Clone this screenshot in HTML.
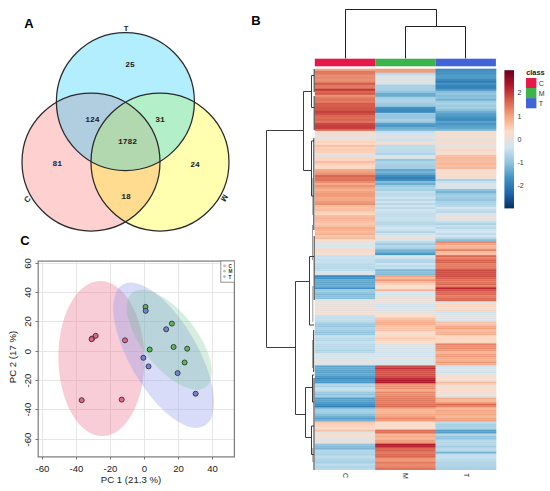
<!DOCTYPE html>
<html><head><meta charset="utf-8"><style>
html,body{margin:0;padding:0;background:#fff;width:550px;height:491px;overflow:hidden}
svg{display:block;font-family:"Liberation Sans",sans-serif}
</style></head><body>
<svg width="550" height="491" viewBox="0 0 550 491">
<rect width="550" height="491" fill="#fff"/>
<!-- Panel A Venn -->
<text x="24.2" y="27.5" font-size="13" font-weight="bold">A</text>
<defs>
<clipPath id="cC"><circle cx="91" cy="162" r="69"/></clipPath>
<clipPath id="cM"><circle cx="160" cy="162" r="69"/></clipPath>
<clipPath id="cT"><circle cx="125.4" cy="101.6" r="69"/></clipPath>
</defs>
<circle cx="91" cy="162" r="69" fill="#FFD0D0"/>
<circle cx="160" cy="162" r="69" fill="#FFFFAF"/>
<circle cx="125.4" cy="101.6" r="69" fill="#B3EEFE"/>
<circle cx="160" cy="162" r="69" fill="#FFDC8F" clip-path="url(#cC)"/>
<circle cx="125.4" cy="101.6" r="69" fill="#B1CDE0" clip-path="url(#cC)"/>
<circle cx="125.4" cy="101.6" r="69" fill="#B3EFC8" clip-path="url(#cM)"/>
<g clip-path="url(#cM)"><circle cx="125.4" cy="101.6" r="69" fill="#B2D8B0" clip-path="url(#cC)"/></g>
<g stroke="#2a2a2a" stroke-width="1.25" fill="none">
<circle cx="91" cy="162" r="69"/>
<circle cx="160" cy="162" r="69"/>
<circle cx="125.4" cy="101.6" r="69"/>
</g>
<g font-size="8" fill="#222" font-family="Liberation Mono, monospace" font-weight="bold" text-anchor="middle">
<text x="130" y="66.9">25</text>
<text x="92.4" y="122">124</text>
<text x="160" y="122">31</text>
<text x="127.5" y="144.2">1782</text>
<text x="57.2" y="166.3">81</text>
<text x="195" y="167">24</text>
<text x="126" y="198.5">18</text>
<text x="126" y="31.3" font-size="7.5" font-family="Liberation Sans, sans-serif">T</text>
<text transform="translate(27.5,199.4) rotate(-45)" font-size="8" font-family="Liberation Sans, sans-serif" dominant-baseline="central">C</text>
<text transform="translate(224.1,197.9) rotate(119)" font-size="8" font-family="Liberation Sans, sans-serif" dominant-baseline="central">M</text>
</g>
<!-- Panel B -->
<text x="251.3" y="24.6" font-size="13" font-weight="bold">B</text>
<g stroke="#222" stroke-width="1" fill="none">
<path d="M345.5,58.5 V9.5 H436.5 V26.5"/>
<path d="M405.5,58.5 V26.5 H465.5 V58.5"/>
</g>
<rect x="314.8" y="58.7" width="60.4" height="7.6" fill="#E6194B"/>
<rect x="375.2" y="58.7" width="60.4" height="7.6" fill="#3CB44B"/>
<rect x="435.6" y="58.7" width="60.3" height="7.6" fill="#4363D8"/>
<rect x="314.80" y="68.70" width="60.77" height="2.25" fill="#f5aa88"/>
<rect x="314.80" y="70.70" width="60.77" height="2.25" fill="#e0765e"/>
<rect x="314.80" y="72.71" width="60.77" height="2.25" fill="#e17a61"/>
<rect x="314.80" y="74.72" width="60.77" height="2.25" fill="#eb9173"/>
<rect x="314.80" y="76.72" width="60.77" height="2.25" fill="#e7866a"/>
<rect x="314.80" y="78.72" width="60.77" height="2.25" fill="#ec9374"/>
<rect x="314.80" y="80.73" width="60.77" height="2.25" fill="#e8896d"/>
<rect x="314.80" y="82.73" width="60.77" height="2.25" fill="#d3594a"/>
<rect x="314.80" y="84.74" width="60.77" height="2.25" fill="#e17961"/>
<rect x="314.80" y="86.75" width="60.77" height="2.25" fill="#e27c63"/>
<rect x="314.80" y="88.75" width="60.77" height="2.25" fill="#c1373a"/>
<rect x="314.80" y="90.75" width="60.77" height="2.25" fill="#da6a55"/>
<rect x="314.80" y="92.76" width="60.77" height="2.25" fill="#d35b4b"/>
<rect x="314.80" y="94.77" width="60.77" height="2.25" fill="#ec9274"/>
<rect x="314.80" y="96.77" width="60.77" height="2.25" fill="#e37e64"/>
<rect x="314.80" y="98.78" width="60.77" height="2.25" fill="#de725a"/>
<rect x="314.80" y="100.78" width="60.77" height="2.25" fill="#e37e64"/>
<rect x="314.80" y="102.78" width="60.77" height="2.25" fill="#d45d4c"/>
<rect x="314.80" y="104.79" width="60.77" height="2.25" fill="#d55f4c"/>
<rect x="314.80" y="106.80" width="60.77" height="2.25" fill="#d25849"/>
<rect x="314.80" y="108.80" width="60.77" height="2.25" fill="#d25849"/>
<rect x="314.80" y="110.81" width="60.77" height="2.25" fill="#c63f3e"/>
<rect x="314.80" y="112.81" width="60.77" height="2.25" fill="#cc4d44"/>
<rect x="314.80" y="114.81" width="60.77" height="2.25" fill="#d96752"/>
<rect x="314.80" y="116.82" width="60.77" height="2.25" fill="#dc6f58"/>
<rect x="314.80" y="118.83" width="60.77" height="2.25" fill="#d86551"/>
<rect x="314.80" y="120.83" width="60.77" height="2.25" fill="#e0775f"/>
<rect x="314.80" y="122.84" width="60.77" height="2.25" fill="#cb4942"/>
<rect x="314.80" y="124.84" width="60.77" height="2.25" fill="#c53f3d"/>
<rect x="314.80" y="126.84" width="60.77" height="2.25" fill="#c43c3c"/>
<rect x="314.80" y="128.85" width="60.77" height="2.25" fill="#da6954"/>
<rect x="314.80" y="130.85" width="60.77" height="2.25" fill="#f3ddd0"/>
<rect x="314.80" y="132.86" width="60.77" height="2.25" fill="#f3ddd1"/>
<rect x="314.80" y="134.87" width="60.77" height="2.25" fill="#e9e0da"/>
<rect x="314.80" y="136.87" width="60.77" height="2.25" fill="#e4e1de"/>
<rect x="314.80" y="138.88" width="60.77" height="2.25" fill="#fadcca"/>
<rect x="314.80" y="140.88" width="60.77" height="2.25" fill="#fbd2bb"/>
<rect x="314.80" y="142.88" width="60.77" height="2.25" fill="#fcdbc8"/>
<rect x="314.80" y="144.89" width="60.77" height="2.25" fill="#f9c0a5"/>
<rect x="314.80" y="146.89" width="60.77" height="2.25" fill="#fbd1ba"/>
<rect x="314.80" y="148.90" width="60.77" height="2.25" fill="#fbccb4"/>
<rect x="314.80" y="150.91" width="60.77" height="2.25" fill="#fbd1ba"/>
<rect x="314.80" y="152.91" width="60.77" height="2.25" fill="#f0ded3"/>
<rect x="314.80" y="154.91" width="60.77" height="2.25" fill="#dce3e6"/>
<rect x="314.80" y="156.92" width="60.77" height="2.25" fill="#fcd6c0"/>
<rect x="314.80" y="158.93" width="60.77" height="2.25" fill="#fcd6c1"/>
<rect x="314.80" y="160.93" width="60.77" height="2.25" fill="#f8bea2"/>
<rect x="314.80" y="162.94" width="60.77" height="2.25" fill="#fbd0b9"/>
<rect x="314.80" y="164.94" width="60.77" height="2.25" fill="#fddac6"/>
<rect x="314.80" y="166.94" width="60.77" height="2.25" fill="#f9dccb"/>
<rect x="314.80" y="168.95" width="60.77" height="2.25" fill="#f5ac8b"/>
<rect x="314.80" y="170.95" width="60.77" height="2.25" fill="#f2a17f"/>
<rect x="314.80" y="172.96" width="60.77" height="2.25" fill="#ec9475"/>
<rect x="314.80" y="174.97" width="60.77" height="2.25" fill="#d96752"/>
<rect x="314.80" y="176.97" width="60.77" height="2.25" fill="#e0765e"/>
<rect x="314.80" y="178.97" width="60.77" height="2.25" fill="#de725b"/>
<rect x="314.80" y="180.98" width="60.77" height="2.25" fill="#e98c6f"/>
<rect x="314.80" y="182.99" width="60.77" height="2.25" fill="#f5aa89"/>
<rect x="314.80" y="184.99" width="60.77" height="2.25" fill="#ec9274"/>
<rect x="314.80" y="187.00" width="60.77" height="2.25" fill="#f3a481"/>
<rect x="314.80" y="189.00" width="60.77" height="2.25" fill="#f6b191"/>
<rect x="314.80" y="191.00" width="60.77" height="2.25" fill="#f3a380"/>
<rect x="314.80" y="193.01" width="60.77" height="2.25" fill="#f09c7b"/>
<rect x="314.80" y="195.01" width="60.77" height="2.25" fill="#f19d7c"/>
<rect x="314.80" y="197.02" width="60.77" height="2.25" fill="#f5a988"/>
<rect x="314.80" y="199.02" width="60.77" height="2.25" fill="#f4a785"/>
<rect x="314.80" y="201.03" width="60.77" height="2.25" fill="#ef9a7a"/>
<rect x="314.80" y="203.03" width="60.77" height="2.25" fill="#ea8e70"/>
<rect x="314.80" y="205.04" width="60.77" height="2.25" fill="#f8bda0"/>
<rect x="314.80" y="207.05" width="60.77" height="2.25" fill="#f9c1a6"/>
<rect x="314.80" y="209.05" width="60.77" height="2.25" fill="#f8bea2"/>
<rect x="314.80" y="211.06" width="60.77" height="2.25" fill="#fbceb6"/>
<rect x="314.80" y="213.06" width="60.77" height="2.25" fill="#fcd6c0"/>
<rect x="314.80" y="215.06" width="60.77" height="2.25" fill="#f8bea2"/>
<rect x="314.80" y="217.07" width="60.77" height="2.25" fill="#f7b495"/>
<rect x="314.80" y="219.07" width="60.77" height="2.25" fill="#f7b89b"/>
<rect x="314.80" y="221.08" width="60.77" height="2.25" fill="#f8bfa4"/>
<rect x="314.80" y="223.08" width="60.77" height="2.25" fill="#fac7ae"/>
<rect x="314.80" y="225.09" width="60.77" height="2.25" fill="#f8bc9f"/>
<rect x="314.80" y="227.09" width="60.77" height="2.25" fill="#f5aa89"/>
<rect x="314.80" y="229.10" width="60.77" height="2.25" fill="#f6b293"/>
<rect x="314.80" y="231.11" width="60.77" height="2.25" fill="#f8ba9d"/>
<rect x="314.80" y="233.11" width="60.77" height="2.25" fill="#f6af8f"/>
<rect x="314.80" y="235.12" width="60.77" height="2.25" fill="#f9c5ab"/>
<rect x="314.80" y="237.12" width="60.77" height="2.25" fill="#f8bb9e"/>
<rect x="314.80" y="239.12" width="60.77" height="2.25" fill="#fbdcc9"/>
<rect x="314.80" y="241.13" width="60.77" height="2.25" fill="#dfe2e3"/>
<rect x="314.80" y="243.13" width="60.77" height="2.25" fill="#dce3e6"/>
<rect x="314.80" y="245.14" width="60.77" height="2.25" fill="#d6e4eb"/>
<rect x="314.80" y="247.14" width="60.77" height="2.25" fill="#ecdfd7"/>
<rect x="314.80" y="249.15" width="60.77" height="2.25" fill="#fcd6c0"/>
<rect x="314.80" y="251.15" width="60.77" height="2.25" fill="#e6e0dd"/>
<rect x="314.80" y="253.16" width="60.77" height="2.25" fill="#fcdbc8"/>
<rect x="314.80" y="255.17" width="60.77" height="2.25" fill="#c5dfed"/>
<rect x="314.80" y="257.17" width="60.77" height="2.25" fill="#c8e0ed"/>
<rect x="314.80" y="259.18" width="60.77" height="2.25" fill="#c2ddec"/>
<rect x="314.80" y="261.18" width="60.77" height="2.25" fill="#c5dfec"/>
<rect x="314.80" y="263.19" width="60.77" height="2.25" fill="#b9d9e9"/>
<rect x="314.80" y="265.19" width="60.77" height="2.25" fill="#bad9ea"/>
<rect x="314.80" y="267.19" width="60.77" height="2.25" fill="#b5d7e8"/>
<rect x="314.80" y="269.20" width="60.77" height="2.25" fill="#bddbea"/>
<rect x="314.80" y="271.20" width="60.77" height="2.25" fill="#dbe3e7"/>
<rect x="314.80" y="273.21" width="60.77" height="2.25" fill="#d2e5ef"/>
<rect x="314.80" y="275.21" width="60.77" height="2.25" fill="#3b88bd"/>
<rect x="314.80" y="277.22" width="60.77" height="2.25" fill="#4191c2"/>
<rect x="314.80" y="279.22" width="60.77" height="2.25" fill="#68aad0"/>
<rect x="314.80" y="281.23" width="60.77" height="2.25" fill="#61a6cd"/>
<rect x="314.80" y="283.24" width="60.77" height="2.25" fill="#60a6cd"/>
<rect x="314.80" y="285.24" width="60.77" height="2.25" fill="#6bacd1"/>
<rect x="314.80" y="287.25" width="60.77" height="2.25" fill="#4291c2"/>
<rect x="314.80" y="289.25" width="60.77" height="2.25" fill="#9bcae1"/>
<rect x="314.80" y="291.25" width="60.77" height="2.25" fill="#95c7df"/>
<rect x="314.80" y="293.26" width="60.77" height="2.25" fill="#7fb9d8"/>
<rect x="314.80" y="295.26" width="60.77" height="2.25" fill="#8ac0db"/>
<rect x="314.80" y="297.27" width="60.77" height="2.25" fill="#87beda"/>
<rect x="314.80" y="299.27" width="60.77" height="2.25" fill="#e0e2e2"/>
<rect x="314.80" y="301.28" width="60.77" height="2.25" fill="#e8e0db"/>
<rect x="314.80" y="303.28" width="60.77" height="2.25" fill="#e6e0dd"/>
<rect x="314.80" y="305.29" width="60.77" height="2.25" fill="#e6e0dd"/>
<rect x="314.80" y="307.30" width="60.77" height="2.25" fill="#f3ddd0"/>
<rect x="314.80" y="309.30" width="60.77" height="2.25" fill="#e3e1df"/>
<rect x="314.80" y="311.31" width="60.77" height="2.25" fill="#f4ddcf"/>
<rect x="314.80" y="313.31" width="60.77" height="2.25" fill="#efded4"/>
<rect x="314.80" y="315.31" width="60.77" height="2.25" fill="#c3deec"/>
<rect x="314.80" y="317.32" width="60.77" height="2.25" fill="#c0dceb"/>
<rect x="314.80" y="319.32" width="60.77" height="2.25" fill="#c0dceb"/>
<rect x="314.80" y="321.33" width="60.77" height="2.25" fill="#b0d4e6"/>
<rect x="314.80" y="323.33" width="60.77" height="2.25" fill="#9ac9e0"/>
<rect x="314.80" y="325.34" width="60.77" height="2.25" fill="#95c6df"/>
<rect x="314.80" y="327.34" width="60.77" height="2.25" fill="#aad1e5"/>
<rect x="314.80" y="329.35" width="60.77" height="2.25" fill="#9ecbe2"/>
<rect x="314.80" y="331.35" width="60.77" height="2.25" fill="#93c6de"/>
<rect x="314.80" y="333.36" width="60.77" height="2.25" fill="#97c7df"/>
<rect x="314.80" y="335.36" width="60.77" height="2.25" fill="#c7e0ed"/>
<rect x="314.80" y="337.37" width="60.77" height="2.25" fill="#b8d8e9"/>
<rect x="314.80" y="339.38" width="60.77" height="2.25" fill="#b3d6e7"/>
<rect x="314.80" y="341.38" width="60.77" height="2.25" fill="#c5dfed"/>
<rect x="314.80" y="343.38" width="60.77" height="2.25" fill="#bbdaea"/>
<rect x="314.80" y="345.39" width="60.77" height="2.25" fill="#b5d7e8"/>
<rect x="314.80" y="347.39" width="60.77" height="2.25" fill="#bbdaea"/>
<rect x="314.80" y="349.40" width="60.77" height="2.25" fill="#a9d1e4"/>
<rect x="314.80" y="351.40" width="60.77" height="2.25" fill="#b8d8e9"/>
<rect x="314.80" y="353.41" width="60.77" height="2.25" fill="#dbe3e7"/>
<rect x="314.80" y="355.41" width="60.77" height="2.25" fill="#d4e4ed"/>
<rect x="314.80" y="357.42" width="60.77" height="2.25" fill="#d2e5ef"/>
<rect x="314.80" y="359.42" width="60.77" height="2.25" fill="#e9e0da"/>
<rect x="314.80" y="361.43" width="60.77" height="2.25" fill="#dde2e4"/>
<rect x="314.80" y="363.43" width="60.77" height="2.25" fill="#d5e4ed"/>
<rect x="314.80" y="365.44" width="60.77" height="2.25" fill="#5ca3cc"/>
<rect x="314.80" y="367.44" width="60.77" height="2.25" fill="#67aacf"/>
<rect x="314.80" y="369.45" width="60.77" height="2.25" fill="#5ba2cb"/>
<rect x="314.80" y="371.45" width="60.77" height="2.25" fill="#5ba2cb"/>
<rect x="314.80" y="373.46" width="60.77" height="2.25" fill="#62a7ce"/>
<rect x="314.80" y="375.46" width="60.77" height="2.25" fill="#4a98c6"/>
<rect x="314.80" y="377.47" width="60.77" height="2.25" fill="#3a87bd"/>
<rect x="314.80" y="379.47" width="60.77" height="2.25" fill="#4a97c5"/>
<rect x="314.80" y="381.48" width="60.77" height="2.25" fill="#4896c5"/>
<rect x="314.80" y="383.48" width="60.77" height="2.25" fill="#b5d7e8"/>
<rect x="314.80" y="385.49" width="60.77" height="2.25" fill="#a7d0e4"/>
<rect x="314.80" y="387.49" width="60.77" height="2.25" fill="#c7e0ed"/>
<rect x="314.80" y="389.50" width="60.77" height="2.25" fill="#bfdceb"/>
<rect x="314.80" y="391.50" width="60.77" height="2.25" fill="#9ccae1"/>
<rect x="314.80" y="393.51" width="60.77" height="2.25" fill="#8fc3dd"/>
<rect x="314.80" y="395.51" width="60.77" height="2.25" fill="#a2cde2"/>
<rect x="314.80" y="397.52" width="60.77" height="2.25" fill="#519cc8"/>
<rect x="314.80" y="399.52" width="60.77" height="2.25" fill="#5ba2cb"/>
<rect x="314.80" y="401.53" width="60.77" height="2.25" fill="#4d9ac7"/>
<rect x="314.80" y="403.53" width="60.77" height="2.25" fill="#3f8ec0"/>
<rect x="314.80" y="405.54" width="60.77" height="2.25" fill="#327db8"/>
<rect x="314.80" y="407.54" width="60.77" height="2.25" fill="#87beda"/>
<rect x="314.80" y="409.55" width="60.77" height="2.25" fill="#a5cfe4"/>
<rect x="314.80" y="411.55" width="60.77" height="2.25" fill="#a2cde2"/>
<rect x="314.80" y="413.56" width="60.77" height="2.25" fill="#88bfdb"/>
<rect x="314.80" y="415.56" width="60.77" height="2.25" fill="#6fafd2"/>
<rect x="314.80" y="417.57" width="60.77" height="2.25" fill="#539dc8"/>
<rect x="314.80" y="419.57" width="60.77" height="2.25" fill="#74b2d4"/>
<rect x="314.80" y="421.58" width="60.77" height="2.25" fill="#f9c5ab"/>
<rect x="314.80" y="423.58" width="60.77" height="2.25" fill="#fbd0ba"/>
<rect x="314.80" y="425.59" width="60.77" height="2.25" fill="#fcd6c1"/>
<rect x="314.80" y="427.59" width="60.77" height="2.25" fill="#fadcca"/>
<rect x="314.80" y="429.60" width="60.77" height="2.25" fill="#f9c0a5"/>
<rect x="314.80" y="431.60" width="60.77" height="2.25" fill="#e0e2e2"/>
<rect x="314.80" y="433.61" width="60.77" height="2.25" fill="#f7dccd"/>
<rect x="314.80" y="435.61" width="60.77" height="2.25" fill="#f1ded2"/>
<rect x="314.80" y="437.62" width="60.77" height="2.25" fill="#e6e0dd"/>
<rect x="314.80" y="439.62" width="60.77" height="2.25" fill="#dae3e7"/>
<rect x="314.80" y="441.63" width="60.77" height="2.25" fill="#eeded5"/>
<rect x="314.80" y="443.63" width="60.77" height="2.25" fill="#93c5de"/>
<rect x="314.80" y="445.64" width="60.77" height="2.25" fill="#85bdda"/>
<rect x="314.80" y="447.64" width="60.77" height="2.25" fill="#7bb6d6"/>
<rect x="314.80" y="449.65" width="60.77" height="2.25" fill="#b3d6e7"/>
<rect x="314.80" y="451.65" width="60.77" height="2.25" fill="#b1d5e7"/>
<rect x="314.80" y="453.66" width="60.77" height="2.25" fill="#acd2e5"/>
<rect x="314.80" y="455.66" width="60.77" height="2.25" fill="#bfdceb"/>
<rect x="314.80" y="457.67" width="60.77" height="2.25" fill="#b5d7e8"/>
<rect x="314.80" y="459.67" width="60.77" height="2.25" fill="#abd2e5"/>
<rect x="314.80" y="461.68" width="60.77" height="2.25" fill="#a7d0e4"/>
<rect x="314.80" y="463.68" width="60.77" height="2.25" fill="#bfdceb"/>
<rect x="314.80" y="465.69" width="60.77" height="2.25" fill="#afd4e6"/>
<rect x="314.80" y="467.69" width="60.77" height="2.25" fill="#b8d8e9"/><rect x="375.17" y="68.70" width="60.77" height="2.25" fill="#ef9b7a"/>
<rect x="375.17" y="70.70" width="60.77" height="2.25" fill="#f09b7a"/>
<rect x="375.17" y="72.71" width="60.77" height="2.25" fill="#b8d8e9"/>
<rect x="375.17" y="74.72" width="60.77" height="2.25" fill="#cce3ef"/>
<rect x="375.17" y="76.72" width="60.77" height="2.25" fill="#e4e1df"/>
<rect x="375.17" y="78.72" width="60.77" height="2.25" fill="#e1e1e1"/>
<rect x="375.17" y="80.73" width="60.77" height="2.25" fill="#dfe2e3"/>
<rect x="375.17" y="82.73" width="60.77" height="2.25" fill="#d4e4ed"/>
<rect x="375.17" y="84.74" width="60.77" height="2.25" fill="#a9d1e5"/>
<rect x="375.17" y="86.75" width="60.77" height="2.25" fill="#a9d1e5"/>
<rect x="375.17" y="88.75" width="60.77" height="2.25" fill="#a8d0e4"/>
<rect x="375.17" y="90.75" width="60.77" height="2.25" fill="#97c7df"/>
<rect x="375.17" y="92.76" width="60.77" height="2.25" fill="#6bacd1"/>
<rect x="375.17" y="94.77" width="60.77" height="2.25" fill="#69abd0"/>
<rect x="375.17" y="96.77" width="60.77" height="2.25" fill="#a5cfe3"/>
<rect x="375.17" y="98.78" width="60.77" height="2.25" fill="#b0d4e7"/>
<rect x="375.17" y="100.78" width="60.77" height="2.25" fill="#aed3e6"/>
<rect x="375.17" y="102.78" width="60.77" height="2.25" fill="#9dcbe1"/>
<rect x="375.17" y="104.79" width="60.77" height="2.25" fill="#99c9e0"/>
<rect x="375.17" y="106.80" width="60.77" height="2.25" fill="#4191c2"/>
<rect x="375.17" y="108.80" width="60.77" height="2.25" fill="#3c8abe"/>
<rect x="375.17" y="110.81" width="60.77" height="2.25" fill="#3c89be"/>
<rect x="375.17" y="112.81" width="60.77" height="2.25" fill="#9ac9e0"/>
<rect x="375.17" y="114.81" width="60.77" height="2.25" fill="#94c6df"/>
<rect x="375.17" y="116.82" width="60.77" height="2.25" fill="#96c7df"/>
<rect x="375.17" y="118.83" width="60.77" height="2.25" fill="#acd2e5"/>
<rect x="375.17" y="120.83" width="60.77" height="2.25" fill="#9dcae1"/>
<rect x="375.17" y="122.84" width="60.77" height="2.25" fill="#5aa1cb"/>
<rect x="375.17" y="124.84" width="60.77" height="2.25" fill="#4997c5"/>
<rect x="375.17" y="126.84" width="60.77" height="2.25" fill="#6daed1"/>
<rect x="375.17" y="128.85" width="60.77" height="2.25" fill="#7db8d7"/>
<rect x="375.17" y="130.85" width="60.77" height="2.25" fill="#c5dfed"/>
<rect x="375.17" y="132.86" width="60.77" height="2.25" fill="#d3e4ee"/>
<rect x="375.17" y="134.87" width="60.77" height="2.25" fill="#e5e0dd"/>
<rect x="375.17" y="136.87" width="60.77" height="2.25" fill="#dce3e6"/>
<rect x="375.17" y="138.88" width="60.77" height="2.25" fill="#cce2ee"/>
<rect x="375.17" y="140.88" width="60.77" height="2.25" fill="#efded4"/>
<rect x="375.17" y="142.88" width="60.77" height="2.25" fill="#ecdfd7"/>
<rect x="375.17" y="144.89" width="60.77" height="2.25" fill="#bddbea"/>
<rect x="375.17" y="146.89" width="60.77" height="2.25" fill="#c4deec"/>
<rect x="375.17" y="148.90" width="60.77" height="2.25" fill="#bedbeb"/>
<rect x="375.17" y="150.91" width="60.77" height="2.25" fill="#bfdceb"/>
<rect x="375.17" y="152.91" width="60.77" height="2.25" fill="#add3e6"/>
<rect x="375.17" y="154.91" width="60.77" height="2.25" fill="#dbe3e7"/>
<rect x="375.17" y="156.92" width="60.77" height="2.25" fill="#dae3e8"/>
<rect x="375.17" y="158.93" width="60.77" height="2.25" fill="#97c7df"/>
<rect x="375.17" y="160.93" width="60.77" height="2.25" fill="#afd4e6"/>
<rect x="375.17" y="162.94" width="60.77" height="2.25" fill="#aed3e6"/>
<rect x="375.17" y="164.94" width="60.77" height="2.25" fill="#a3cee3"/>
<rect x="375.17" y="166.94" width="60.77" height="2.25" fill="#a6cfe4"/>
<rect x="375.17" y="168.95" width="60.77" height="2.25" fill="#62a7ce"/>
<rect x="375.17" y="170.95" width="60.77" height="2.25" fill="#79b5d5"/>
<rect x="375.17" y="172.96" width="60.77" height="2.25" fill="#63a7ce"/>
<rect x="375.17" y="174.97" width="60.77" height="2.25" fill="#3f8dc0"/>
<rect x="375.17" y="176.97" width="60.77" height="2.25" fill="#347fb9"/>
<rect x="375.17" y="178.97" width="60.77" height="2.25" fill="#408fc1"/>
<rect x="375.17" y="180.98" width="60.77" height="2.25" fill="#83bcd9"/>
<rect x="375.17" y="182.99" width="60.77" height="2.25" fill="#6cadd1"/>
<rect x="375.17" y="184.99" width="60.77" height="2.25" fill="#9ecbe2"/>
<rect x="375.17" y="187.00" width="60.77" height="2.25" fill="#add3e6"/>
<rect x="375.17" y="189.00" width="60.77" height="2.25" fill="#a5cfe3"/>
<rect x="375.17" y="191.00" width="60.77" height="2.25" fill="#c5dfed"/>
<rect x="375.17" y="193.01" width="60.77" height="2.25" fill="#badaea"/>
<rect x="375.17" y="195.01" width="60.77" height="2.25" fill="#bfdceb"/>
<rect x="375.17" y="197.02" width="60.77" height="2.25" fill="#cee4ef"/>
<rect x="375.17" y="199.02" width="60.77" height="2.25" fill="#b8d8e9"/>
<rect x="375.17" y="201.03" width="60.77" height="2.25" fill="#d2e5ef"/>
<rect x="375.17" y="203.03" width="60.77" height="2.25" fill="#b8d8e9"/>
<rect x="375.17" y="205.04" width="60.77" height="2.25" fill="#d2e5ef"/>
<rect x="375.17" y="207.05" width="60.77" height="2.25" fill="#b9d9e9"/>
<rect x="375.17" y="209.05" width="60.77" height="2.25" fill="#d3e4ee"/>
<rect x="375.17" y="211.06" width="60.77" height="2.25" fill="#cae1ee"/>
<rect x="375.17" y="213.06" width="60.77" height="2.25" fill="#c1ddec"/>
<rect x="375.17" y="215.06" width="60.77" height="2.25" fill="#c2ddec"/>
<rect x="375.17" y="217.07" width="60.77" height="2.25" fill="#c8e0ed"/>
<rect x="375.17" y="219.07" width="60.77" height="2.25" fill="#c5dfed"/>
<rect x="375.17" y="221.08" width="60.77" height="2.25" fill="#b9d9e9"/>
<rect x="375.17" y="223.08" width="60.77" height="2.25" fill="#b5d7e8"/>
<rect x="375.17" y="225.09" width="60.77" height="2.25" fill="#c2ddec"/>
<rect x="375.17" y="227.09" width="60.77" height="2.25" fill="#d3e5ef"/>
<rect x="375.17" y="229.10" width="60.77" height="2.25" fill="#c6e0ed"/>
<rect x="375.17" y="231.11" width="60.77" height="2.25" fill="#b0d4e6"/>
<rect x="375.17" y="233.11" width="60.77" height="2.25" fill="#cfe4ef"/>
<rect x="375.17" y="235.12" width="60.77" height="2.25" fill="#e4e1df"/>
<rect x="375.17" y="237.12" width="60.77" height="2.25" fill="#e9e0da"/>
<rect x="375.17" y="239.12" width="60.77" height="2.25" fill="#d4e4ed"/>
<rect x="375.17" y="241.13" width="60.77" height="2.25" fill="#b9d9e9"/>
<rect x="375.17" y="243.13" width="60.77" height="2.25" fill="#9ccae1"/>
<rect x="375.17" y="245.14" width="60.77" height="2.25" fill="#b5d7e8"/>
<rect x="375.17" y="247.14" width="60.77" height="2.25" fill="#a5cfe3"/>
<rect x="375.17" y="249.15" width="60.77" height="2.25" fill="#78b4d5"/>
<rect x="375.17" y="251.15" width="60.77" height="2.25" fill="#6aacd0"/>
<rect x="375.17" y="253.16" width="60.77" height="2.25" fill="#4393c3"/>
<rect x="375.17" y="255.17" width="60.77" height="2.25" fill="#d7e4ea"/>
<rect x="375.17" y="257.17" width="60.77" height="2.25" fill="#cbe2ee"/>
<rect x="375.17" y="259.18" width="60.77" height="2.25" fill="#b2d5e7"/>
<rect x="375.17" y="261.18" width="60.77" height="2.25" fill="#b0d4e7"/>
<rect x="375.17" y="263.19" width="60.77" height="2.25" fill="#cce3ef"/>
<rect x="375.17" y="265.19" width="60.77" height="2.25" fill="#b9d9e9"/>
<rect x="375.17" y="267.19" width="60.77" height="2.25" fill="#c6dfed"/>
<rect x="375.17" y="269.20" width="60.77" height="2.25" fill="#7ab6d6"/>
<rect x="375.17" y="271.20" width="60.77" height="2.25" fill="#8bc0dc"/>
<rect x="375.17" y="273.21" width="60.77" height="2.25" fill="#81bad8"/>
<rect x="375.17" y="275.21" width="60.77" height="2.25" fill="#f3a280"/>
<rect x="375.17" y="277.22" width="60.77" height="2.25" fill="#f7b89a"/>
<rect x="375.17" y="279.22" width="60.77" height="2.25" fill="#ed9576"/>
<rect x="375.17" y="281.23" width="60.77" height="2.25" fill="#f7ba9d"/>
<rect x="375.17" y="283.24" width="60.77" height="2.25" fill="#fbcdb6"/>
<rect x="375.17" y="285.24" width="60.77" height="2.25" fill="#f3ddd0"/>
<rect x="375.17" y="287.25" width="60.77" height="2.25" fill="#fadcca"/>
<rect x="375.17" y="289.25" width="60.77" height="2.25" fill="#f6b293"/>
<rect x="375.17" y="291.25" width="60.77" height="2.25" fill="#d3e5ee"/>
<rect x="375.17" y="293.26" width="60.77" height="2.25" fill="#d4e4ed"/>
<rect x="375.17" y="295.26" width="60.77" height="2.25" fill="#e3e1e0"/>
<rect x="375.17" y="297.27" width="60.77" height="2.25" fill="#eedfd5"/>
<rect x="375.17" y="299.27" width="60.77" height="2.25" fill="#e4e1df"/>
<rect x="375.17" y="301.28" width="60.77" height="2.25" fill="#ebdfd7"/>
<rect x="375.17" y="303.28" width="60.77" height="2.25" fill="#d3e5ee"/>
<rect x="375.17" y="305.29" width="60.77" height="2.25" fill="#cfe4ef"/>
<rect x="375.17" y="307.30" width="60.77" height="2.25" fill="#d9e3e9"/>
<rect x="375.17" y="309.30" width="60.77" height="2.25" fill="#e0e1e2"/>
<rect x="375.17" y="311.31" width="60.77" height="2.25" fill="#e4e1de"/>
<rect x="375.17" y="313.31" width="60.77" height="2.25" fill="#f6ddcd"/>
<rect x="375.17" y="315.31" width="60.77" height="2.25" fill="#fddbc7"/>
<rect x="375.17" y="317.32" width="60.77" height="2.25" fill="#f9c6ac"/>
<rect x="375.17" y="319.32" width="60.77" height="2.25" fill="#f7b799"/>
<rect x="375.17" y="321.33" width="60.77" height="2.25" fill="#f5ac8b"/>
<rect x="375.17" y="323.33" width="60.77" height="2.25" fill="#f5ad8c"/>
<rect x="375.17" y="325.34" width="60.77" height="2.25" fill="#f8bfa3"/>
<rect x="375.17" y="327.34" width="60.77" height="2.25" fill="#f9c4aa"/>
<rect x="375.17" y="329.35" width="60.77" height="2.25" fill="#f9c1a5"/>
<rect x="375.17" y="331.35" width="60.77" height="2.25" fill="#fddac6"/>
<rect x="375.17" y="333.36" width="60.77" height="2.25" fill="#f7dccd"/>
<rect x="375.17" y="335.36" width="60.77" height="2.25" fill="#fcd7c2"/>
<rect x="375.17" y="337.37" width="60.77" height="2.25" fill="#fac8ae"/>
<rect x="375.17" y="339.38" width="60.77" height="2.25" fill="#fcd4be"/>
<rect x="375.17" y="341.38" width="60.77" height="2.25" fill="#fcdbc8"/>
<rect x="375.17" y="343.38" width="60.77" height="2.25" fill="#d8e3e9"/>
<rect x="375.17" y="345.39" width="60.77" height="2.25" fill="#e5e1de"/>
<rect x="375.17" y="347.39" width="60.77" height="2.25" fill="#cee4ef"/>
<rect x="375.17" y="349.40" width="60.77" height="2.25" fill="#dce2e6"/>
<rect x="375.17" y="351.40" width="60.77" height="2.25" fill="#d0e4f0"/>
<rect x="375.17" y="353.41" width="60.77" height="2.25" fill="#d4e4ee"/>
<rect x="375.17" y="355.41" width="60.77" height="2.25" fill="#cfe4ef"/>
<rect x="375.17" y="357.42" width="60.77" height="2.25" fill="#e7e0db"/>
<rect x="375.17" y="359.42" width="60.77" height="2.25" fill="#d3e5ee"/>
<rect x="375.17" y="361.43" width="60.77" height="2.25" fill="#dde2e5"/>
<rect x="375.17" y="363.43" width="60.77" height="2.25" fill="#d7e4ea"/>
<rect x="375.17" y="365.44" width="60.77" height="2.25" fill="#ca4842"/>
<rect x="375.17" y="367.44" width="60.77" height="2.25" fill="#bd2e36"/>
<rect x="375.17" y="369.45" width="60.77" height="2.25" fill="#cd4d44"/>
<rect x="375.17" y="371.45" width="60.77" height="2.25" fill="#cf5146"/>
<rect x="375.17" y="373.46" width="60.77" height="2.25" fill="#cf5246"/>
<rect x="375.17" y="375.46" width="60.77" height="2.25" fill="#cc4c44"/>
<rect x="375.17" y="377.47" width="60.77" height="2.25" fill="#bb2933"/>
<rect x="375.17" y="379.47" width="60.77" height="2.25" fill="#a9152a"/>
<rect x="375.17" y="381.48" width="60.77" height="2.25" fill="#b0172b"/>
<rect x="375.17" y="383.48" width="60.77" height="2.25" fill="#ea8f71"/>
<rect x="375.17" y="385.49" width="60.77" height="2.25" fill="#eb9173"/>
<rect x="375.17" y="387.49" width="60.77" height="2.25" fill="#ea8e71"/>
<rect x="375.17" y="389.50" width="60.77" height="2.25" fill="#f6af8e"/>
<rect x="375.17" y="391.50" width="60.77" height="2.25" fill="#e8886c"/>
<rect x="375.17" y="393.51" width="60.77" height="2.25" fill="#eb9173"/>
<rect x="375.17" y="395.51" width="60.77" height="2.25" fill="#e58267"/>
<rect x="375.17" y="397.52" width="60.77" height="2.25" fill="#e48066"/>
<rect x="375.17" y="399.52" width="60.77" height="2.25" fill="#e17860"/>
<rect x="375.17" y="401.53" width="60.77" height="2.25" fill="#e27c63"/>
<rect x="375.17" y="403.53" width="60.77" height="2.25" fill="#de725b"/>
<rect x="375.17" y="405.54" width="60.77" height="2.25" fill="#db6a55"/>
<rect x="375.17" y="407.54" width="60.77" height="2.25" fill="#f3a481"/>
<rect x="375.17" y="409.55" width="60.77" height="2.25" fill="#f7b799"/>
<rect x="375.17" y="411.55" width="60.77" height="2.25" fill="#f7b697"/>
<rect x="375.17" y="413.56" width="60.77" height="2.25" fill="#f5a886"/>
<rect x="375.17" y="415.56" width="60.77" height="2.25" fill="#f3a280"/>
<rect x="375.17" y="417.57" width="60.77" height="2.25" fill="#e7866a"/>
<rect x="375.17" y="419.57" width="60.77" height="2.25" fill="#f09c7b"/>
<rect x="375.17" y="421.58" width="60.77" height="2.25" fill="#f6ddce"/>
<rect x="375.17" y="423.58" width="60.77" height="2.25" fill="#f8dccc"/>
<rect x="375.17" y="425.59" width="60.77" height="2.25" fill="#fadcca"/>
<rect x="375.17" y="427.59" width="60.77" height="2.25" fill="#f9dccb"/>
<rect x="375.17" y="429.60" width="60.77" height="2.25" fill="#dd705a"/>
<rect x="375.17" y="431.60" width="60.77" height="2.25" fill="#de735b"/>
<rect x="375.17" y="433.61" width="60.77" height="2.25" fill="#f6b495"/>
<rect x="375.17" y="435.61" width="60.77" height="2.25" fill="#f5a886"/>
<rect x="375.17" y="437.62" width="60.77" height="2.25" fill="#f7b799"/>
<rect x="375.17" y="439.62" width="60.77" height="2.25" fill="#f09d7c"/>
<rect x="375.17" y="441.63" width="60.77" height="2.25" fill="#ef9a7a"/>
<rect x="375.17" y="443.63" width="60.77" height="2.25" fill="#b41c2d"/>
<rect x="375.17" y="445.64" width="60.77" height="2.25" fill="#bb2a33"/>
<rect x="375.17" y="447.64" width="60.77" height="2.25" fill="#d96652"/>
<rect x="375.17" y="449.65" width="60.77" height="2.25" fill="#d7634f"/>
<rect x="375.17" y="451.65" width="60.77" height="2.25" fill="#e27b62"/>
<rect x="375.17" y="453.66" width="60.77" height="2.25" fill="#db6b55"/>
<rect x="375.17" y="455.66" width="60.77" height="2.25" fill="#d96651"/>
<rect x="375.17" y="457.67" width="60.77" height="2.25" fill="#ed9475"/>
<rect x="375.17" y="459.67" width="60.77" height="2.25" fill="#ef9878"/>
<rect x="375.17" y="461.68" width="60.77" height="2.25" fill="#e17860"/>
<rect x="375.17" y="463.68" width="60.77" height="2.25" fill="#e98c6f"/>
<rect x="375.17" y="465.69" width="60.77" height="2.25" fill="#e68569"/>
<rect x="375.17" y="467.69" width="60.77" height="2.25" fill="#de735b"/><rect x="435.53" y="68.70" width="60.77" height="2.25" fill="#3b89be"/>
<rect x="435.53" y="70.70" width="60.77" height="2.25" fill="#4292c3"/>
<rect x="435.53" y="72.71" width="60.77" height="2.25" fill="#4494c3"/>
<rect x="435.53" y="74.72" width="60.77" height="2.25" fill="#509bc8"/>
<rect x="435.53" y="76.72" width="60.77" height="2.25" fill="#519cc8"/>
<rect x="435.53" y="78.72" width="60.77" height="2.25" fill="#3d8bbf"/>
<rect x="435.53" y="80.73" width="60.77" height="2.25" fill="#317cb7"/>
<rect x="435.53" y="82.73" width="60.77" height="2.25" fill="#4594c4"/>
<rect x="435.53" y="84.74" width="60.77" height="2.25" fill="#3783bb"/>
<rect x="435.53" y="86.75" width="60.77" height="2.25" fill="#3682ba"/>
<rect x="435.53" y="88.75" width="60.77" height="2.25" fill="#4d99c6"/>
<rect x="435.53" y="90.75" width="60.77" height="2.25" fill="#85bdd9"/>
<rect x="435.53" y="92.76" width="60.77" height="2.25" fill="#97c7df"/>
<rect x="435.53" y="94.77" width="60.77" height="2.25" fill="#85bdda"/>
<rect x="435.53" y="96.77" width="60.77" height="2.25" fill="#8dc2dc"/>
<rect x="435.53" y="98.78" width="60.77" height="2.25" fill="#74b2d4"/>
<rect x="435.53" y="100.78" width="60.77" height="2.25" fill="#a1cde2"/>
<rect x="435.53" y="102.78" width="60.77" height="2.25" fill="#abd2e5"/>
<rect x="435.53" y="104.79" width="60.77" height="2.25" fill="#9ccae1"/>
<rect x="435.53" y="106.80" width="60.77" height="2.25" fill="#a5cfe4"/>
<rect x="435.53" y="108.80" width="60.77" height="2.25" fill="#8fc3dd"/>
<rect x="435.53" y="110.81" width="60.77" height="2.25" fill="#6fafd2"/>
<rect x="435.53" y="112.81" width="60.77" height="2.25" fill="#58a1ca"/>
<rect x="435.53" y="114.81" width="60.77" height="2.25" fill="#509bc7"/>
<rect x="435.53" y="116.82" width="60.77" height="2.25" fill="#4292c2"/>
<rect x="435.53" y="118.83" width="60.77" height="2.25" fill="#3c8abe"/>
<rect x="435.53" y="120.83" width="60.77" height="2.25" fill="#5ea4cc"/>
<rect x="435.53" y="122.84" width="60.77" height="2.25" fill="#4997c5"/>
<rect x="435.53" y="124.84" width="60.77" height="2.25" fill="#569fca"/>
<rect x="435.53" y="126.84" width="60.77" height="2.25" fill="#5fa5cc"/>
<rect x="435.53" y="128.85" width="60.77" height="2.25" fill="#7ab6d6"/>
<rect x="435.53" y="130.85" width="60.77" height="2.25" fill="#fadcca"/>
<rect x="435.53" y="132.86" width="60.77" height="2.25" fill="#ebdfd8"/>
<rect x="435.53" y="134.87" width="60.77" height="2.25" fill="#fadcca"/>
<rect x="435.53" y="136.87" width="60.77" height="2.25" fill="#efded4"/>
<rect x="435.53" y="138.88" width="60.77" height="2.25" fill="#e0e2e2"/>
<rect x="435.53" y="140.88" width="60.77" height="2.25" fill="#fdd8c4"/>
<rect x="435.53" y="142.88" width="60.77" height="2.25" fill="#e9e0da"/>
<rect x="435.53" y="144.89" width="60.77" height="2.25" fill="#eadfd9"/>
<rect x="435.53" y="146.89" width="60.77" height="2.25" fill="#ecdfd7"/>
<rect x="435.53" y="148.90" width="60.77" height="2.25" fill="#fcd5c0"/>
<rect x="435.53" y="150.91" width="60.77" height="2.25" fill="#f2ddd1"/>
<rect x="435.53" y="152.91" width="60.77" height="2.25" fill="#f8dccc"/>
<rect x="435.53" y="154.91" width="60.77" height="2.25" fill="#f9c0a5"/>
<rect x="435.53" y="156.92" width="60.77" height="2.25" fill="#f7b99c"/>
<rect x="435.53" y="158.93" width="60.77" height="2.25" fill="#f8bda1"/>
<rect x="435.53" y="160.93" width="60.77" height="2.25" fill="#f8bfa3"/>
<rect x="435.53" y="162.94" width="60.77" height="2.25" fill="#f7b698"/>
<rect x="435.53" y="164.94" width="60.77" height="2.25" fill="#f9c2a8"/>
<rect x="435.53" y="166.94" width="60.77" height="2.25" fill="#f7b799"/>
<rect x="435.53" y="168.95" width="60.77" height="2.25" fill="#f3ddd0"/>
<rect x="435.53" y="170.95" width="60.77" height="2.25" fill="#fadcca"/>
<rect x="435.53" y="172.96" width="60.77" height="2.25" fill="#f8dccc"/>
<rect x="435.53" y="174.97" width="60.77" height="2.25" fill="#f5ddce"/>
<rect x="435.53" y="176.97" width="60.77" height="2.25" fill="#ecdfd7"/>
<rect x="435.53" y="178.97" width="60.77" height="2.25" fill="#aad1e5"/>
<rect x="435.53" y="180.98" width="60.77" height="2.25" fill="#c7e0ed"/>
<rect x="435.53" y="182.99" width="60.77" height="2.25" fill="#dde2e4"/>
<rect x="435.53" y="184.99" width="60.77" height="2.25" fill="#dce3e6"/>
<rect x="435.53" y="187.00" width="60.77" height="2.25" fill="#d2e5ef"/>
<rect x="435.53" y="189.00" width="60.77" height="2.25" fill="#91c5de"/>
<rect x="435.53" y="191.00" width="60.77" height="2.25" fill="#77b4d5"/>
<rect x="435.53" y="193.01" width="60.77" height="2.25" fill="#96c7df"/>
<rect x="435.53" y="195.01" width="60.77" height="2.25" fill="#a8d0e4"/>
<rect x="435.53" y="197.02" width="60.77" height="2.25" fill="#9ccae1"/>
<rect x="435.53" y="199.02" width="60.77" height="2.25" fill="#93c5de"/>
<rect x="435.53" y="201.03" width="60.77" height="2.25" fill="#aad1e5"/>
<rect x="435.53" y="203.03" width="60.77" height="2.25" fill="#b0d4e7"/>
<rect x="435.53" y="205.04" width="60.77" height="2.25" fill="#b5d7e8"/>
<rect x="435.53" y="207.05" width="60.77" height="2.25" fill="#d2e5ef"/>
<rect x="435.53" y="209.05" width="60.77" height="2.25" fill="#c2deec"/>
<rect x="435.53" y="211.06" width="60.77" height="2.25" fill="#b7d8e9"/>
<rect x="435.53" y="213.06" width="60.77" height="2.25" fill="#dae3e7"/>
<rect x="435.53" y="215.06" width="60.77" height="2.25" fill="#e8e0da"/>
<rect x="435.53" y="217.07" width="60.77" height="2.25" fill="#ebdfd8"/>
<rect x="435.53" y="219.07" width="60.77" height="2.25" fill="#d3e5ee"/>
<rect x="435.53" y="221.08" width="60.77" height="2.25" fill="#c1ddec"/>
<rect x="435.53" y="223.08" width="60.77" height="2.25" fill="#aad1e5"/>
<rect x="435.53" y="225.09" width="60.77" height="2.25" fill="#c6dfed"/>
<rect x="435.53" y="227.09" width="60.77" height="2.25" fill="#b5d7e8"/>
<rect x="435.53" y="229.10" width="60.77" height="2.25" fill="#cce3ef"/>
<rect x="435.53" y="231.11" width="60.77" height="2.25" fill="#d1e5f0"/>
<rect x="435.53" y="233.11" width="60.77" height="2.25" fill="#bddbea"/>
<rect x="435.53" y="235.12" width="60.77" height="2.25" fill="#d1e5f0"/>
<rect x="435.53" y="237.12" width="60.77" height="2.25" fill="#b5d7e8"/>
<rect x="435.53" y="239.12" width="60.77" height="2.25" fill="#88bfdb"/>
<rect x="435.53" y="241.13" width="60.77" height="2.25" fill="#e7876b"/>
<rect x="435.53" y="243.13" width="60.77" height="2.25" fill="#f2a07f"/>
<rect x="435.53" y="245.14" width="60.77" height="2.25" fill="#f7b89a"/>
<rect x="435.53" y="247.14" width="60.77" height="2.25" fill="#f6b091"/>
<rect x="435.53" y="249.15" width="60.77" height="2.25" fill="#e48166"/>
<rect x="435.53" y="251.15" width="60.77" height="2.25" fill="#f7b99c"/>
<rect x="435.53" y="253.16" width="60.77" height="2.25" fill="#f8bda1"/>
<rect x="435.53" y="255.17" width="60.77" height="2.25" fill="#d86651"/>
<rect x="435.53" y="257.17" width="60.77" height="2.25" fill="#e37f65"/>
<rect x="435.53" y="259.18" width="60.77" height="2.25" fill="#d7624e"/>
<rect x="435.53" y="261.18" width="60.77" height="2.25" fill="#d86450"/>
<rect x="435.53" y="263.19" width="60.77" height="2.25" fill="#e27c62"/>
<rect x="435.53" y="265.19" width="60.77" height="2.25" fill="#e17860"/>
<rect x="435.53" y="267.19" width="60.77" height="2.25" fill="#df765e"/>
<rect x="435.53" y="269.20" width="60.77" height="2.25" fill="#cb4b43"/>
<rect x="435.53" y="271.20" width="60.77" height="2.25" fill="#cd4d44"/>
<rect x="435.53" y="273.21" width="60.77" height="2.25" fill="#cd4f45"/>
<rect x="435.53" y="275.21" width="60.77" height="2.25" fill="#cc4c44"/>
<rect x="435.53" y="277.22" width="60.77" height="2.25" fill="#d55d4c"/>
<rect x="435.53" y="279.22" width="60.77" height="2.25" fill="#dd715a"/>
<rect x="435.53" y="281.23" width="60.77" height="2.25" fill="#df745d"/>
<rect x="435.53" y="283.24" width="60.77" height="2.25" fill="#d96753"/>
<rect x="435.53" y="285.24" width="60.77" height="2.25" fill="#e37d63"/>
<rect x="435.53" y="287.25" width="60.77" height="2.25" fill="#b92531"/>
<rect x="435.53" y="289.25" width="60.77" height="2.25" fill="#ce5046"/>
<rect x="435.53" y="291.25" width="60.77" height="2.25" fill="#d96652"/>
<rect x="435.53" y="293.26" width="60.77" height="2.25" fill="#d86551"/>
<rect x="435.53" y="295.26" width="60.77" height="2.25" fill="#e37d63"/>
<rect x="435.53" y="297.27" width="60.77" height="2.25" fill="#db6b55"/>
<rect x="435.53" y="299.27" width="60.77" height="2.25" fill="#d76350"/>
<rect x="435.53" y="301.28" width="60.77" height="2.25" fill="#dce2e5"/>
<rect x="435.53" y="303.28" width="60.77" height="2.25" fill="#fcd6c0"/>
<rect x="435.53" y="305.29" width="60.77" height="2.25" fill="#fcd5bf"/>
<rect x="435.53" y="307.30" width="60.77" height="2.25" fill="#f1ded2"/>
<rect x="435.53" y="309.30" width="60.77" height="2.25" fill="#fcd5bf"/>
<rect x="435.53" y="311.31" width="60.77" height="2.25" fill="#cee3ef"/>
<rect x="435.53" y="313.31" width="60.77" height="2.25" fill="#d5e4ec"/>
<rect x="435.53" y="315.31" width="60.77" height="2.25" fill="#e9dfd9"/>
<rect x="435.53" y="317.32" width="60.77" height="2.25" fill="#d9e3e8"/>
<rect x="435.53" y="319.32" width="60.77" height="2.25" fill="#dae3e8"/>
<rect x="435.53" y="321.33" width="60.77" height="2.25" fill="#f9c2a7"/>
<rect x="435.53" y="323.33" width="60.77" height="2.25" fill="#f9c1a6"/>
<rect x="435.53" y="325.34" width="60.77" height="2.25" fill="#f5ab8a"/>
<rect x="435.53" y="327.34" width="60.77" height="2.25" fill="#f29f7e"/>
<rect x="435.53" y="329.35" width="60.77" height="2.25" fill="#f8ba9d"/>
<rect x="435.53" y="331.35" width="60.77" height="2.25" fill="#f6b394"/>
<rect x="435.53" y="333.36" width="60.77" height="2.25" fill="#f5ae8d"/>
<rect x="435.53" y="335.36" width="60.77" height="2.25" fill="#fcd8c3"/>
<rect x="435.53" y="337.37" width="60.77" height="2.25" fill="#fcd6c1"/>
<rect x="435.53" y="339.38" width="60.77" height="2.25" fill="#fdd8c3"/>
<rect x="435.53" y="341.38" width="60.77" height="2.25" fill="#fcd6c1"/>
<rect x="435.53" y="343.38" width="60.77" height="2.25" fill="#e58267"/>
<rect x="435.53" y="345.39" width="60.77" height="2.25" fill="#ea8f71"/>
<rect x="435.53" y="347.39" width="60.77" height="2.25" fill="#e98c6e"/>
<rect x="435.53" y="349.40" width="60.77" height="2.25" fill="#ef9978"/>
<rect x="435.53" y="351.40" width="60.77" height="2.25" fill="#f7b698"/>
<rect x="435.53" y="353.41" width="60.77" height="2.25" fill="#f3a280"/>
<rect x="435.53" y="355.41" width="60.77" height="2.25" fill="#ef9a7a"/>
<rect x="435.53" y="357.42" width="60.77" height="2.25" fill="#f5ac8b"/>
<rect x="435.53" y="359.42" width="60.77" height="2.25" fill="#f6af8f"/>
<rect x="435.53" y="361.43" width="60.77" height="2.25" fill="#ee9777"/>
<rect x="435.53" y="363.43" width="60.77" height="2.25" fill="#f6ae8e"/>
<rect x="435.53" y="365.44" width="60.77" height="2.25" fill="#cce2ef"/>
<rect x="435.53" y="367.44" width="60.77" height="2.25" fill="#d5e4ed"/>
<rect x="435.53" y="369.45" width="60.77" height="2.25" fill="#dce2e6"/>
<rect x="435.53" y="371.45" width="60.77" height="2.25" fill="#c8e1ee"/>
<rect x="435.53" y="373.46" width="60.77" height="2.25" fill="#ecdfd7"/>
<rect x="435.53" y="375.46" width="60.77" height="2.25" fill="#ecdfd7"/>
<rect x="435.53" y="377.47" width="60.77" height="2.25" fill="#fbdcc9"/>
<rect x="435.53" y="379.47" width="60.77" height="2.25" fill="#efded4"/>
<rect x="435.53" y="381.48" width="60.77" height="2.25" fill="#f7b99b"/>
<rect x="435.53" y="383.48" width="60.77" height="2.25" fill="#fbd1ba"/>
<rect x="435.53" y="385.49" width="60.77" height="2.25" fill="#ecdfd7"/>
<rect x="435.53" y="387.49" width="60.77" height="2.25" fill="#f5ddce"/>
<rect x="435.53" y="389.50" width="60.77" height="2.25" fill="#fcdbc8"/>
<rect x="435.53" y="391.50" width="60.77" height="2.25" fill="#efded4"/>
<rect x="435.53" y="393.51" width="60.77" height="2.25" fill="#e9e0da"/>
<rect x="435.53" y="395.51" width="60.77" height="2.25" fill="#e6e0dd"/>
<rect x="435.53" y="397.52" width="60.77" height="2.25" fill="#f5ac8b"/>
<rect x="435.53" y="399.52" width="60.77" height="2.25" fill="#f7b89a"/>
<rect x="435.53" y="401.53" width="60.77" height="2.25" fill="#f2a17f"/>
<rect x="435.53" y="403.53" width="60.77" height="2.25" fill="#d96752"/>
<rect x="435.53" y="405.54" width="60.77" height="2.25" fill="#e68569"/>
<rect x="435.53" y="407.54" width="60.77" height="2.25" fill="#f7b99c"/>
<rect x="435.53" y="409.55" width="60.77" height="2.25" fill="#f4a684"/>
<rect x="435.53" y="411.55" width="60.77" height="2.25" fill="#f5ac8b"/>
<rect x="435.53" y="413.56" width="60.77" height="2.25" fill="#f4a684"/>
<rect x="435.53" y="415.56" width="60.77" height="2.25" fill="#f7b799"/>
<rect x="435.53" y="417.57" width="60.77" height="2.25" fill="#f4a683"/>
<rect x="435.53" y="419.57" width="60.77" height="2.25" fill="#f19f7d"/>
<rect x="435.53" y="421.58" width="60.77" height="2.25" fill="#bbdaea"/>
<rect x="435.53" y="423.58" width="60.77" height="2.25" fill="#a5cfe3"/>
<rect x="435.53" y="425.59" width="60.77" height="2.25" fill="#a8d0e4"/>
<rect x="435.53" y="427.59" width="60.77" height="2.25" fill="#abd2e5"/>
<rect x="435.53" y="429.60" width="60.77" height="2.25" fill="#58a1ca"/>
<rect x="435.53" y="431.60" width="60.77" height="2.25" fill="#58a0ca"/>
<rect x="435.53" y="433.61" width="60.77" height="2.25" fill="#b6d7e8"/>
<rect x="435.53" y="435.61" width="60.77" height="2.25" fill="#97c7df"/>
<rect x="435.53" y="437.62" width="60.77" height="2.25" fill="#90c4dd"/>
<rect x="435.53" y="439.62" width="60.77" height="2.25" fill="#b7d8e9"/>
<rect x="435.53" y="441.63" width="60.77" height="2.25" fill="#b5d7e8"/>
<rect x="435.53" y="443.63" width="60.77" height="2.25" fill="#b9d9e9"/>
<rect x="435.53" y="445.64" width="60.77" height="2.25" fill="#a2cde3"/>
<rect x="435.53" y="447.64" width="60.77" height="2.25" fill="#b8d8e9"/>
<rect x="435.53" y="449.65" width="60.77" height="2.25" fill="#b7d8e8"/>
<rect x="435.53" y="451.65" width="60.77" height="2.25" fill="#78b4d5"/>
<rect x="435.53" y="453.66" width="60.77" height="2.25" fill="#c2ddec"/>
<rect x="435.53" y="455.66" width="60.77" height="2.25" fill="#c6dfed"/>
<rect x="435.53" y="457.67" width="60.77" height="2.25" fill="#bfdceb"/>
<rect x="435.53" y="459.67" width="60.77" height="2.25" fill="#b9d9e9"/>
<rect x="435.53" y="461.68" width="60.77" height="2.25" fill="#afd4e6"/>
<rect x="435.53" y="463.68" width="60.77" height="2.25" fill="#b1d5e7"/>
<rect x="435.53" y="465.69" width="60.77" height="2.25" fill="#acd2e6"/>
<rect x="435.53" y="467.69" width="60.77" height="2.25" fill="#a6cfe4"/>
<g stroke="#333" stroke-width="0.95" fill="none">
<path d="M266.5,130.5 V347.5 M266.5,130.5 H303.5 M303.5,91.5 V170.5 M303.5,91.5 H311.5 M311.5,75.5 V107.5 M303.5,170.5 H311.5 M311.5,141 V196"/>
<path d="M266.5,347.5 H295.5 M295.5,281.5 V414.5 M295.5,281.5 H309.5 M309.5,256.5 V325 M295.5,414.5 H305.5 M305.5,387.5 V437.5 M305.5,387.5 H312.5 M312.5,375 V402 M305.5,437.5 H311.5 M311.5,426 V454.5"/>
<path d="M311.5,75.5 H314 M311.5,107.5 H314 M311.5,141 H314 M311.5,196 H314 M309.5,256.5 H314 M309.5,325 H314 M312.5,375 H314 M312.5,402 H314 M311.5,426 H314 M311.5,454.5 H314"/>
</g>
<g stroke="#1a1a1a" stroke-width="1.1" fill="none" opacity="0.8">
<path d="M314.2,69 V92 M314.2,96 V130 M313.8,138 V230 M314.2,236 V300 M313.6,330 V372 M314,378 V470"/>
</g>
<g stroke="#555" stroke-width="0.6" fill="none">
<path d="M312.8,178 V215 M312.5,225 V260 M312.8,286 V322 M312.6,340 V368 M312.8,448 V462"/>
</g>
<g font-size="7" fill="#333" transform="translate(0,0)">
<text transform="translate(343.1,472.9) rotate(90)">C</text>
<text transform="translate(403.1,472.9) rotate(90)">M</text>
<text transform="translate(464.1,472.9) rotate(90)">T</text>
</g>
<defs><linearGradient id="cb" x1="0" y1="0" x2="0" y2="1"><stop offset="0.000" stop-color="#67001F"/><stop offset="0.111" stop-color="#B2182B"/><stop offset="0.222" stop-color="#D6604D"/><stop offset="0.333" stop-color="#F4A582"/><stop offset="0.444" stop-color="#FDDBC7"/><stop offset="0.556" stop-color="#D1E5F0"/><stop offset="0.667" stop-color="#92C5DE"/><stop offset="0.778" stop-color="#4393C3"/><stop offset="0.889" stop-color="#2166AC"/><stop offset="1.000" stop-color="#053061"/></linearGradient></defs>
<rect x="504.4" y="70.2" width="9.6" height="138.2" fill="url(#cb)"/>
<g font-size="7" fill="#333">
<text x="517.5" y="95.4">2</text>
<text x="517.5" y="118.5">1</text>
<text x="517.5" y="141.9">0</text>
<text x="517.4" y="165.4">-1</text>
<text x="517.4" y="188.2">-2</text>
</g>
<text x="526.2" y="75.3" font-size="7.4" font-weight="bold" fill="#222">class</text>
<rect x="526" y="78" width="10.4" height="10" fill="#E6194B"/>
<rect x="526" y="88" width="10.4" height="10.1" fill="#3CB44B"/>
<rect x="526" y="98.1" width="10.4" height="10.2" fill="#4363D8"/>
<g font-size="7" fill="#333">
<text x="538.8" y="85.5">C</text>
<text x="538.8" y="95.5">M</text>
<text x="538.8" y="105.7">T</text>
</g>
<!-- Panel C -->
<text x="20.3" y="244.5" font-size="13" font-weight="bold">C</text>
<line x1="42.5" y1="261" x2="42.5" y2="457" stroke="#e6e6e6" stroke-width="1"/><line x1="76.5" y1="261" x2="76.5" y2="457" stroke="#e6e6e6" stroke-width="1"/><line x1="110.5" y1="261" x2="110.5" y2="457" stroke="#e6e6e6" stroke-width="1"/><line x1="144.5" y1="261" x2="144.5" y2="457" stroke="#e6e6e6" stroke-width="1"/><line x1="178.5" y1="261" x2="178.5" y2="457" stroke="#e6e6e6" stroke-width="1"/><line x1="212.5" y1="261" x2="212.5" y2="457" stroke="#e6e6e6" stroke-width="1"/><line x1="38.5" y1="263.5" x2="234" y2="263.5" stroke="#e6e6e6" stroke-width="1"/><line x1="38.5" y1="292.5" x2="234" y2="292.5" stroke="#e6e6e6" stroke-width="1"/><line x1="38.5" y1="321.5" x2="234" y2="321.5" stroke="#e6e6e6" stroke-width="1"/><line x1="38.5" y1="351.5" x2="234" y2="351.5" stroke="#e6e6e6" stroke-width="1"/><line x1="38.5" y1="380.5" x2="234" y2="380.5" stroke="#e6e6e6" stroke-width="1"/><line x1="38.5" y1="409.5" x2="234" y2="409.5" stroke="#e6e6e6" stroke-width="1"/><line x1="38.5" y1="439.5" x2="234" y2="439.5" stroke="#e6e6e6" stroke-width="1"/>
<g>
<ellipse cx="101.4" cy="358.6" rx="43" ry="77.5" transform="rotate(-1 101.4 358.6)" fill="#EB7090" fill-opacity="0.35"/>
<ellipse cx="163.6" cy="355.2" rx="81.6" ry="34.1" transform="rotate(60 163.6 355.2)" fill="#909BEB" fill-opacity="0.35"/>
<ellipse cx="169.25" cy="339.65" rx="59.7" ry="27.3" transform="rotate(52 169.25 339.65)" fill="#5BBB80" fill-opacity="0.25"/>
</g>
<circle cx="92.2" cy="338.5" r="2.5" fill="#E9628C" stroke="#333" stroke-width="0.9"/><circle cx="91.6" cy="339.2" r="2.5" fill="#E9628C" stroke="#333" stroke-width="0.9"/><circle cx="95.7" cy="335.8" r="2.5" fill="#E9628C" stroke="#333" stroke-width="0.9"/><circle cx="125.0" cy="340.3" r="2.5" fill="#E9628C" stroke="#333" stroke-width="0.9"/><circle cx="81.7" cy="400.2" r="2.5" fill="#E9628C" stroke="#333" stroke-width="0.9"/><circle cx="121.7" cy="399.6" r="2.5" fill="#E9628C" stroke="#333" stroke-width="0.9"/><circle cx="145.5" cy="306.9" r="2.5" fill="#5CB85C" stroke="#333" stroke-width="0.9"/><circle cx="171.9" cy="323.6" r="2.5" fill="#5CB85C" stroke="#333" stroke-width="0.9"/><circle cx="149.7" cy="349.5" r="2.5" fill="#5CB85C" stroke="#333" stroke-width="0.9"/><circle cx="173.6" cy="347" r="2.5" fill="#5CB85C" stroke="#333" stroke-width="0.9"/><circle cx="187.2" cy="348.7" r="2.5" fill="#5CB85C" stroke="#333" stroke-width="0.9"/><circle cx="184.6" cy="362.5" r="2.5" fill="#5CB85C" stroke="#333" stroke-width="0.9"/><circle cx="145.7" cy="310.8" r="2.5" fill="#6F86D8" stroke="#333" stroke-width="0.9"/><circle cx="166.2" cy="329.3" r="2.5" fill="#6F86D8" stroke="#333" stroke-width="0.9"/><circle cx="143.4" cy="357.8" r="2.5" fill="#6F86D8" stroke="#333" stroke-width="0.9"/><circle cx="148.5" cy="366.4" r="2.5" fill="#6F86D8" stroke="#333" stroke-width="0.9"/><circle cx="177.6" cy="373.1" r="2.5" fill="#6F86D8" stroke="#333" stroke-width="0.9"/><circle cx="195.6" cy="393.7" r="2.5" fill="#6F86D8" stroke="#333" stroke-width="0.9"/>
<rect x="38.2" y="261.1" width="196.2" height="195.8" fill="none" stroke="#7a7a7a" stroke-width="1.2"/>
<g font-size="9.6" fill="#222"><line x1="42.5" y1="457" x2="42.5" y2="459.5" stroke="#777" stroke-width="1"/><text x="42.5" y="472.4" text-anchor="middle">-60</text><line x1="76.5" y1="457" x2="76.5" y2="459.5" stroke="#777" stroke-width="1"/><text x="76.5" y="472.4" text-anchor="middle">-40</text><line x1="110.5" y1="457" x2="110.5" y2="459.5" stroke="#777" stroke-width="1"/><text x="110.5" y="472.4" text-anchor="middle">-20</text><line x1="144.5" y1="457" x2="144.5" y2="459.5" stroke="#777" stroke-width="1"/><text x="144.5" y="472.4" text-anchor="middle">0</text><line x1="178.5" y1="457" x2="178.5" y2="459.5" stroke="#777" stroke-width="1"/><text x="178.5" y="472.4" text-anchor="middle">20</text><line x1="212.5" y1="457" x2="212.5" y2="459.5" stroke="#777" stroke-width="1"/><text x="212.5" y="472.4" text-anchor="middle">40</text><line x1="35.5" y1="263.5" x2="38.5" y2="263.5" stroke="#777" stroke-width="1"/><text transform="translate(31.2,263.5) rotate(-90)" text-anchor="middle">60</text><line x1="35.5" y1="292.5" x2="38.5" y2="292.5" stroke="#777" stroke-width="1"/><text transform="translate(31.2,292.5) rotate(-90)" text-anchor="middle">40</text><line x1="35.5" y1="321.5" x2="38.5" y2="321.5" stroke="#777" stroke-width="1"/><text transform="translate(31.2,321.5) rotate(-90)" text-anchor="middle">20</text><line x1="35.5" y1="351.5" x2="38.5" y2="351.5" stroke="#777" stroke-width="1"/><text transform="translate(31.2,351.5) rotate(-90)" text-anchor="middle">0</text><line x1="35.5" y1="380.5" x2="38.5" y2="380.5" stroke="#777" stroke-width="1"/><text transform="translate(31.2,380.5) rotate(-90)" text-anchor="middle">-20</text><line x1="35.5" y1="409.5" x2="38.5" y2="409.5" stroke="#777" stroke-width="1"/><text transform="translate(31.2,409.5) rotate(-90)" text-anchor="middle">-40</text><line x1="35.5" y1="439.5" x2="38.5" y2="439.5" stroke="#777" stroke-width="1"/><text transform="translate(31.2,439.5) rotate(-90)" text-anchor="middle">-60</text></g>
<text x="131" y="482.8" font-size="9.6" fill="#222" text-anchor="middle">PC 1 (21.3 %)</text>
<text transform="translate(16.3,357) rotate(-90)" font-size="9.6" fill="#222" text-anchor="middle">PC 2 (17 %)</text>
<rect x="220.8" y="261" width="13.6" height="21.2" fill="#fff" stroke="#888" stroke-width="0.9"/>
<circle cx="224.5" cy="265.8" r="1.4" fill="#F5A0B8"/><circle cx="224.5" cy="271.2" r="1.4" fill="#9ED69E"/><circle cx="224.5" cy="276.6" r="1.4" fill="#A8B4EE"/>
<g font-size="4.7" font-weight="bold" fill="#333"><text x="228.6" y="267.9">C</text><text x="228.6" y="273.2">M</text><text x="228.6" y="278.5">T</text></g>
</svg>
</body></html>
